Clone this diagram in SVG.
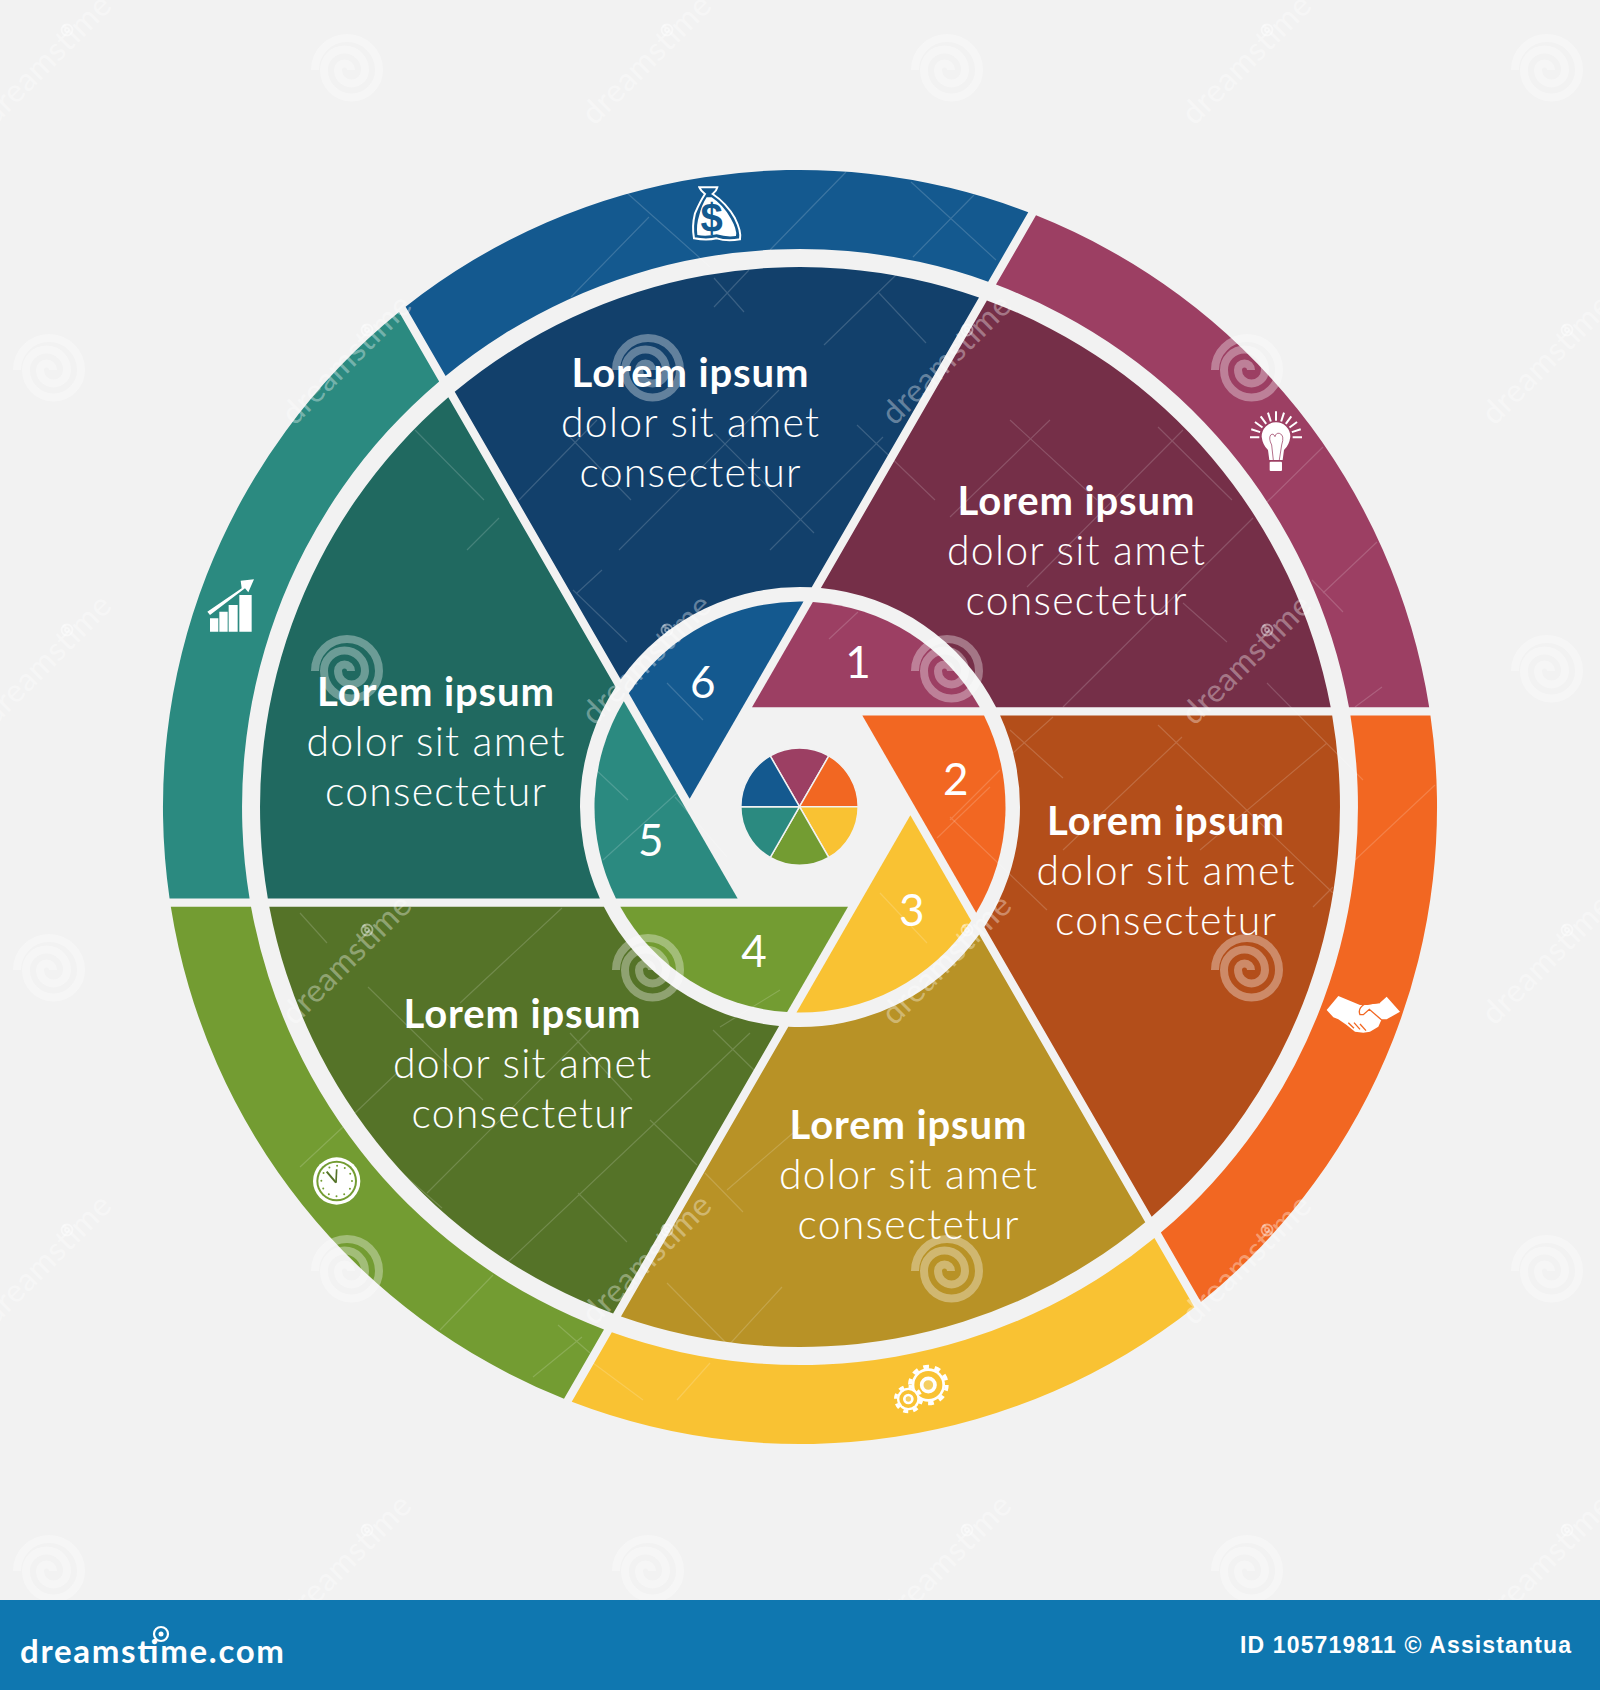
<svg xmlns="http://www.w3.org/2000/svg" width="1600" height="1690" viewBox="0 0 1600 1690">
<style>
.head{font-family:"Lato","Liberation Sans",sans-serif;font-weight:700;font-size:40px;fill:#fff;text-anchor:middle}
.body{font-family:"Lato","Liberation Sans",sans-serif;font-weight:300;font-size:41px;fill:#fff;text-anchor:middle}
.num{font-family:"Lato","Liberation Sans",sans-serif;font-weight:400;font-size:44px;fill:#fff;text-anchor:middle}
.wm{font-family:"Lato","Liberation Sans",sans-serif;font-weight:400;font-size:32px;fill:#fff;fill-opacity:.36;text-anchor:middle}
.sp{fill:none;stroke:#fff;stroke-width:8;stroke-opacity:.34}
.mk{fill:none;stroke:#fff;stroke-width:1.8;stroke-opacity:.45}
.hair{stroke:#fff;stroke-opacity:.17;stroke-width:1.2;fill:none}
.plum{fill:#9c3f63}.plumd{fill:#752f48}
.orange{fill:#f26722}.oranged{fill:#b34e1a}
.yellow{fill:#f9c233}.yellowd{fill:#b89226}
.green{fill:#739c32}.greend{fill:#557328}
.teal{fill:#2b8a80}.teald{fill:#206960}
.blue{fill:#14598f}.blued{fill:#12406b}
.ic{fill:#fff}
</style>
<defs>
<path id="outer" d="M196,-522.4 L236,-591.7 A637,637 0 0 1 629.2,-99.7 L549,-99.7 A558,558 0 0 0 196,-522.4Z"/>
<path id="mid" d="M20.9,-219 L186.9,-506.6 A540,540 0 0 1 530.7,-99.7 L196.1,-99.7 A220,220 0 0 0 20.9,-219Z"/>
<path id="inner" d="M-48,-99.7 L12.85,-205.1 A205.5,205.5 0 0 1 179.7,-99.7Z"/>
<path id="wedge" d="M0,0 L-29.35,-50.8 A58.7,58.7 0 0 1 29.35,-50.8Z" stroke="#f2f2f2" stroke-width="1.5"/>
<path id="spiral" class="sp" d="M3,0 A6.5,6.5 0 0 0 -10,0 A13.5,13.5 0 0 0 17,0 A20.5,20.5 0 0 0 -24,0 A27.5,27.5 0 0 0 31,0 A32,32 0 0 0 -33,0"/>
<g id="mark" class="mk"><circle r="5.5"/><circle r="2"/></g>
</defs>
<rect id="background" width="1600" height="1690" fill="#f2f2f2"/>

<g id="segment-1">
<g transform="translate(800 807)"><use href="#outer" class="plum"/><use href="#mid" class="plumd"/><use href="#inner" class="plum"/></g>
<text class="num" x="858" y="678">1</text>
<text class="head" x="1076" y="515" textLength="237">Lorem ipsum</text>
<text class="body" x="1076" y="565" textLength="258">dolor sit amet</text>
<text class="body" x="1076" y="615" textLength="221">consectetur</text>
<g id="icon-bulb" transform="translate(1200 380) scale(.3333)">
<path class="ic" d="M185,170 A43,43 0 1 1 271,170 Q268,195 252,210 L248,240 L208,240 L204,210 Q188,195 185,170Z"/>
<rect class="ic" x="209" y="245" width="37" height="28" rx="3"/>
<path d="M238,240 L245,195 Q255,165 238,160 Q228,158 225,170 Q220,158 212,165 Q205,175 215,195 L220,240" fill="none" stroke="#9c3f63" stroke-width="3" stroke-opacity=".75"/>
<path d="M278,172H306M275.6,156.5L302.2,147.9M268.5,142.6L291.1,126.1M257.4,131.5L273.9,108.9M243.5,124.5L252.1,97.8M228,122V94M212.5,124.5L203.9,97.8M198.6,131.5L182.1,108.9M187.5,142.6L164.9,126.1M180.4,156.5L153.8,147.9M178,172H150" stroke="#fff" stroke-width="6" fill="none"/>
</g>
</g>

<g id="segment-2">
<g transform="translate(800 807) rotate(60)"><use href="#outer" class="orange"/><use href="#mid" class="oranged"/><use href="#inner" class="orange"/></g>
<text class="num" x="955.7" y="795">2</text>
<text class="head" x="1165.5" y="835" textLength="237">Lorem ipsum</text>
<text class="body" x="1165.5" y="885" textLength="258">dolor sit amet</text>
<text class="body" x="1165.5" y="935" textLength="221">consectetur</text>
<g id="icon-handshake" transform="translate(1280 960) scale(.3333)">
<path class="ic" d="M175,108 L240,135 L262,135 L300,128 L320,110 L360,155 L320,178 L305,178 L295,200 L270,215 L250,218 L225,215 L200,195 L175,178 L160,172 L140,150Z"/>
<path d="M300,128 L255,132 Q232,145 240,164 L250,164 L268,148 L305,180 M205,188 L222,205 M222,188 L240,208 M240,192 L258,212" fill="none" stroke="#f26722" stroke-width="4"/>
</g>
</g>

<g id="segment-3">
<g transform="translate(800 807) rotate(120)"><use href="#outer" class="yellow"/><use href="#mid" class="yellowd"/><use href="#inner" class="yellow"/></g>
<text class="num" x="911.7" y="926">3</text>
<text class="head" x="908" y="1139" textLength="237">Lorem ipsum</text>
<text class="body" x="908" y="1189" textLength="258">dolor sit amet</text>
<text class="body" x="908" y="1239" textLength="221">consectetur</text>
<g id="icon-gears" transform="translate(860 1340) scale(.3333)">
<circle cx="205" cy="135" r="55" fill="none" stroke="#fff" stroke-width="12" stroke-dasharray="17.3 17.3"/>
<circle cx="205" cy="135" r="50" fill="#fff"/><circle cx="205" cy="135" r="42" fill="#f9c233"/>
<circle cx="205" cy="135" r="20" fill="#f5cf63" stroke="#fff" stroke-width="11"/>
<circle cx="145" cy="177" r="38" fill="none" stroke="#fff" stroke-width="10" stroke-dasharray="14.9 14.9"/>
<circle cx="145" cy="177" r="34" fill="#fff"/><circle cx="145" cy="177" r="27" fill="#f9c233"/>
<circle cx="145" cy="177" r="12" fill="#f5cf63" stroke="#fff" stroke-width="8"/>
</g>
</g>

<g id="segment-4">
<g transform="translate(800 807) rotate(180)"><use href="#outer" class="green"/><use href="#mid" class="greend"/><use href="#inner" class="green"/></g>
<text class="num" x="754" y="967">4</text>
<text class="head" x="522" y="1028" textLength="237">Lorem ipsum</text>
<text class="body" x="522" y="1078" textLength="258">dolor sit amet</text>
<text class="body" x="522" y="1128" textLength="221">consectetur</text>
<g id="icon-clock" transform="translate(290 1130) scale(.3333)">
<circle cx="140" cy="153" r="71" fill="#fff"/><circle cx="140" cy="153" r="61" fill="#739c32"/><circle cx="140" cy="153" r="55" fill="#fff"/>
<circle cx="140" cy="153" r="46" fill="none" stroke="#739c32" stroke-width="6" stroke-linecap="round" stroke-dasharray="0 24.09"/>
<path d="M138,158 L110,125" stroke="#557328" stroke-width="6" fill="none"/><path d="M138,158 L140,118" stroke="#557328" stroke-width="5" fill="none"/>
</g>
</g>

<g id="segment-5">
<g transform="translate(800 807) rotate(240)"><use href="#outer" class="teal"/><use href="#mid" class="teald"/><use href="#inner" class="teal"/></g>
<text class="num" x="650.7" y="856">5</text>
<text class="head" x="435.5" y="706" textLength="237">Lorem ipsum</text>
<text class="body" x="435.5" y="756" textLength="258">dolor sit amet</text>
<text class="body" x="435.5" y="806" textLength="221">consectetur</text>
<g id="icon-chart" transform="translate(190 560) scale(.3333)">
<path class="ic" d="M60,175H85V215H60ZM88,155H113V215H88ZM116,135H143V215H116ZM148,105H185V215H148Z"/>
<path class="ic" d="M52,155 L155,85 L152,62 L192,58 L175,97 L165,85 L60,165Z"/>
</g>
</g>

<g id="segment-6">
<g transform="translate(800 807) rotate(300)"><use href="#outer" class="blue"/><use href="#mid" class="blued"/><use href="#inner" class="blue"/></g>
<text class="num" x="702.7" y="698">6</text>
<text class="head" x="690" y="386.5" textLength="237">Lorem ipsum</text>
<text class="body" x="690" y="436.5" textLength="258">dolor sit amet</text>
<text class="body" x="690" y="486.5" textLength="221">consectetur</text>
<g id="icon-money" transform="translate(660 170) scale(.3333)">
<path d="M118,52 L172,52 Q170,62 158,72 Q200,100 225,145 Q245,185 240,208 Q200,215 170,205 Q140,212 102,205 Q95,170 105,130 Q120,95 135,72 Q122,62 118,52Z" fill="none" stroke="#fff" stroke-width="6"/>
<path class="ic" d="M140,82 L155,82 Q190,105 212,145 Q232,180 228,198 Q200,202 170,193 Q140,200 112,195 Q108,165 118,135 Q125,105 140,82Z"/>
<text x="155" y="185" font-family="'Liberation Sans',sans-serif" font-weight="700" font-size="120" fill="#14598f" text-anchor="middle">$</text>
</g>
</g>

<g id="hub" transform="translate(799.5 806.7)">
<use href="#wedge" class="plum"/>
<use href="#wedge" class="orange" transform="rotate(60)"/>
<use href="#wedge" class="yellow" transform="rotate(120)"/>
<use href="#wedge" class="green" transform="rotate(180)"/>
<use href="#wedge" class="teal" transform="rotate(240)"/>
<use href="#wedge" class="blue" transform="rotate(300)"/>
</g>

<g id="watermark-lines" class="hair">
<path d="M829,639L858,612M667,683L703,720M593,767L628,800M603,860L677,793M675,797L727,857M880,893L927,943M937,838L990,787M573,590L627,642M577,593L602,570"/>
<path d="M770,250L846,172M627,193L710,267M571,297L649,217M913,257L974,195M911,182L996,260M714,307L749,270M714,278L744,312M824,345L896,275M879,293L926,343M415,430L484,500M467,550L499,518M519,500L597,420M566,433L631,500M619,550L779,390M714,433L814,533M770,550L883,437M857,425L935,500"/>
<path d="M950,517L1050,420M1010,420L1097,500M1027,587L1183,430M1158,427L1232,500M1063,707L1253,518M1183,603L1227,642M1267,502L1323,447M1323,593L1377,542M1312,580L1343,612M1355,707L1382,687M1267,683L1363,780M1013,753L1053,717M1010,730L1063,778M1158,725L1333,893M1063,850L1182,737M950,820L1000,770M950,817L1047,910M1200,850L1327,743M1355,860L1435,785M1313,907L1333,887"/>
<path d="M300,913L327,943M460,1003L562,908M368,987L483,1100M355,1113L397,1073M300,1167L343,1127M427,1193L590,1030M570,1033L632,1100M508,1262L750,1033M713,1030L757,1073M650,1120L697,1165M578,1193L627,1242M390,1163L442,1208M440,1330L493,1275M558,1325L590,1353M533,1377L582,1337M705,1173L743,1212M667,1283L730,1347M727,1347L782,1287M727,1190L800,1127M720,1027L780,990M593,1363L643,1400M677,1400L710,1363"/>
</g>

<g id="watermark-spirals">
<use href="#spiral" x="348" y="70"/><use href="#spiral" x="948" y="70"/><use href="#spiral" x="1548" y="70"/>
<use href="#spiral" x="50" y="370"/><use href="#spiral" x="649" y="370"/><use href="#spiral" x="1248" y="370"/>
<use href="#spiral" x="348" y="671"/><use href="#spiral" x="948" y="671"/><use href="#spiral" x="1548" y="671"/>
<use href="#spiral" x="50" y="970"/><use href="#spiral" x="649" y="970"/><use href="#spiral" x="1248" y="970"/>
<use href="#spiral" x="348" y="1271"/><use href="#spiral" x="948" y="1271"/><use href="#spiral" x="1548" y="1271"/>
<use href="#spiral" x="50" y="1571"/><use href="#spiral" x="649" y="1571"/><use href="#spiral" x="1248" y="1571"/>
</g>

<g id="watermark-text">
<text class="wm" textLength="168" transform="translate(54 67) rotate(-45)">dreamstime</text>
<text class="wm" textLength="168" transform="translate(654 67) rotate(-45)">dreamstime</text>
<text class="wm" textLength="168" transform="translate(1254 67) rotate(-45)">dreamstime</text>
<text class="wm" textLength="168" transform="translate(354 367) rotate(-45)">dreamstime</text>
<text class="wm" textLength="168" transform="translate(954 367) rotate(-45)">dreamstime</text>
<text class="wm" textLength="168" transform="translate(1554 367) rotate(-45)">dreamstime</text>
<text class="wm" textLength="168" transform="translate(54 667) rotate(-45)">dreamstime</text>
<text class="wm" textLength="168" transform="translate(654 667) rotate(-45)">dreamstime</text>
<text class="wm" textLength="168" transform="translate(1254 667) rotate(-45)">dreamstime</text>
<text class="wm" textLength="168" transform="translate(354 967) rotate(-45)">dreamstime</text>
<text class="wm" textLength="168" transform="translate(954 967) rotate(-45)">dreamstime</text>
<text class="wm" textLength="168" transform="translate(1554 967) rotate(-45)">dreamstime</text>
<text class="wm" textLength="168" transform="translate(54 1267) rotate(-45)">dreamstime</text>
<text class="wm" textLength="168" transform="translate(654 1267) rotate(-45)">dreamstime</text>
<text class="wm" textLength="168" transform="translate(1254 1267) rotate(-45)">dreamstime</text>
<text class="wm" textLength="168" transform="translate(354 1567) rotate(-45)">dreamstime</text>
<text class="wm" textLength="168" transform="translate(954 1567) rotate(-45)">dreamstime</text>
<text class="wm" textLength="168" transform="translate(1554 1567) rotate(-45)">dreamstime</text>
<use href="#mark" x="67" y="30"/><use href="#mark" x="667" y="30"/><use href="#mark" x="1267" y="30"/>
<use href="#mark" x="367" y="330"/><use href="#mark" x="967" y="330"/><use href="#mark" x="1567" y="330"/>
<use href="#mark" x="67" y="630"/><use href="#mark" x="667" y="630"/><use href="#mark" x="1267" y="630"/>
<use href="#mark" x="367" y="930"/><use href="#mark" x="967" y="930"/><use href="#mark" x="1567" y="930"/>
<use href="#mark" x="67" y="1230"/><use href="#mark" x="667" y="1230"/><use href="#mark" x="1267" y="1230"/>
<use href="#mark" x="367" y="1530"/><use href="#mark" x="967" y="1530"/><use href="#mark" x="1567" y="1530"/>
</g>

<g id="footer">
<rect y="1600" width="1600" height="90" fill="#0f77b0"/>
<text x="20" y="1663" textLength="264" font-family="'Lato','Liberation Sans',sans-serif" font-weight="700" font-size="33" fill="#fff">dreamstime.com</text>
<circle cx="161" cy="1634" r="7" fill="none" stroke="#fff" stroke-width="2.2"/><circle cx="161" cy="1634" r="2.5" fill="#fff"/>
<text x="1571" y="1653" text-anchor="end" font-family="'Liberation Sans',sans-serif" font-weight="700" font-size="23" fill="#fff" textLength="331">ID 105719811 © Assistantua</text>
</g>
</svg>
